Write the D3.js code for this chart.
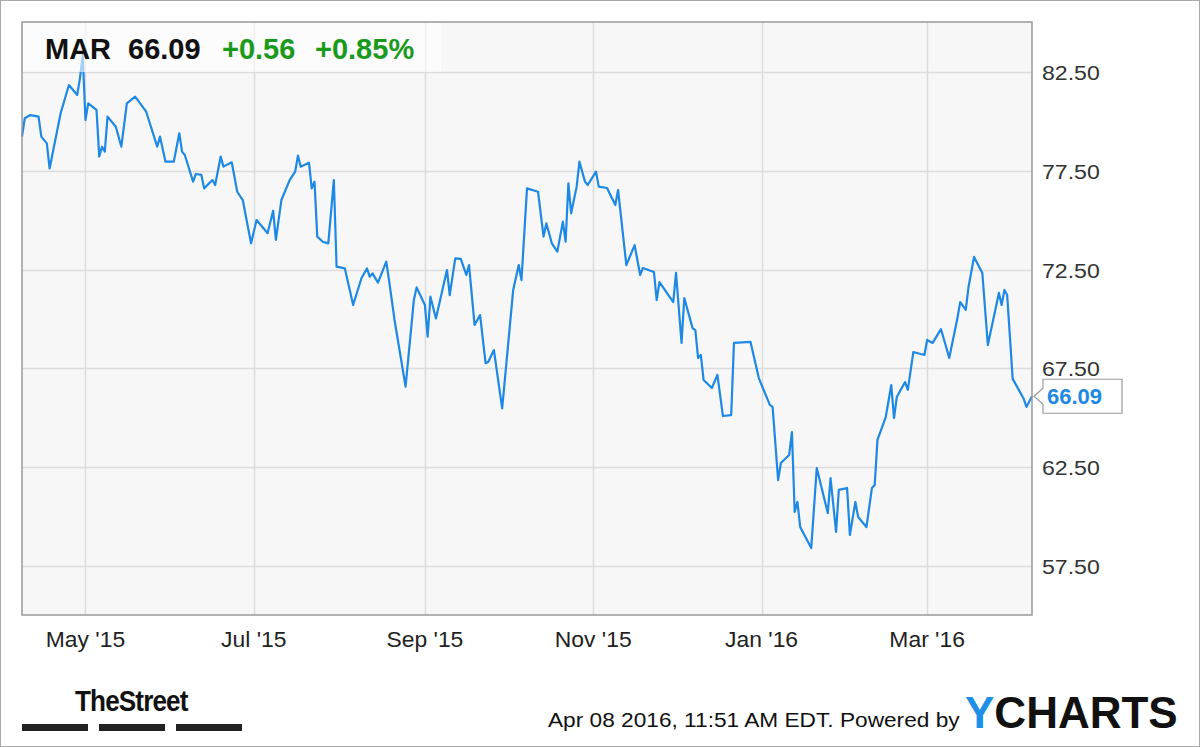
<!DOCTYPE html>
<html><head><meta charset="utf-8">
<script src="https://cdn.jsdelivr.net/npm/d3@7"></script>
<style>body{margin:0;background:#fff}svg{display:block}text{font-family:"Liberation Sans",Arial,sans-serif}</style>
</head><body><svg id="c" width="1200" height="747"></svg>
<script>
// MAR daily close
var dates = ["2015-04-08","2015-04-09","2015-04-11","2015-04-14","2015-04-15","2015-04-17","2015-04-18","2015-04-22","2015-04-25","2015-04-28","2015-04-29","2015-04-30","2015-05-01","2015-05-02","2015-05-05","2015-05-06","2015-05-07","2015-05-08","2015-05-09","2015-05-12","2015-05-14","2015-05-16","2015-05-19","2015-05-23","2015-05-27","2015-05-28","2015-05-30","2015-06-02","2015-06-04","2015-06-05","2015-06-06","2015-06-09","2015-06-10","2015-06-12","2015-06-13","2015-06-16","2015-06-17","2015-06-19","2015-06-20","2015-06-23","2015-06-25","2015-06-27","2015-06-30","2015-07-02","2015-07-06","2015-07-08","2015-07-09","2015-07-11","2015-07-14","2015-07-16","2015-07-17","2015-07-18","2015-07-21","2015-07-22","2015-07-23","2015-07-24","2015-07-26","2015-07-28","2015-07-30","2015-07-31","2015-08-03","2015-08-06","2015-08-09","2015-08-11","2015-08-12","2015-08-13","2015-08-15","2015-08-18","2015-08-19","2015-08-21","2015-08-25","2015-08-28","2015-08-29","2015-09-01","2015-09-02","2015-09-03","2015-09-05","2015-09-09","2015-09-10","2015-09-12","2015-09-14","2015-09-16","2015-09-17","2015-09-19","2015-09-21","2015-09-23","2015-09-24","2015-09-26","2015-09-29","2015-10-03","2015-10-05","2015-10-06","2015-10-08","2015-10-12","2015-10-14","2015-10-15","2015-10-17","2015-10-19","2015-10-21","2015-10-22","2015-10-23","2015-10-24","2015-10-26","2015-10-27","2015-10-29","2015-10-30","2015-11-02","2015-11-03","2015-11-06","2015-11-09","2015-11-10","2015-11-13","2015-11-16","2015-11-18","2015-11-19","2015-11-23","2015-11-24","2015-11-25","2015-11-30","2015-12-01","2015-12-03","2015-12-04","2015-12-07","2015-12-08","2015-12-09","2015-12-10","2015-12-11","2015-12-14","2015-12-16","2015-12-18","2015-12-21","2015-12-22","2015-12-28","2015-12-31","2016-01-04","2016-01-05","2016-01-07","2016-01-08","2016-01-11","2016-01-12","2016-01-13","2016-01-14","2016-01-15","2016-01-19","2016-01-21","2016-01-25","2016-01-26","2016-01-28","2016-01-29","2016-02-01","2016-02-02","2016-02-04","2016-02-05","2016-02-08","2016-02-10","2016-02-11","2016-02-12","2016-02-15","2016-02-17","2016-02-18","2016-02-19","2016-02-22","2016-02-23","2016-02-25","2016-02-29","2016-03-01","2016-03-03","2016-03-06","2016-03-08","2016-03-09","2016-03-12","2016-03-13","2016-03-15","2016-03-16","2016-03-18","2016-03-21","2016-03-23","2016-03-27","2016-03-28","2016-03-29","2016-03-30","2016-04-01","2016-04-05","2016-04-06","2016-04-08"];
var closes = [79.23,80.16,80.32,80.24,79.23,78.89,77.62,80.41,81.84,81.34,82.18,83.36,80.07,80.91,80.58,78.22,78.72,78.47,80.24,79.73,78.72,80.91,81.25,80.49,78.72,79.23,77.96,77.96,79.40,78.47,78.30,76.95,77.34,77.29,76.61,77.03,76.78,78.22,77.71,77.93,76.44,76.02,73.83,75.01,74.34,75.48,74.00,76.02,77.03,77.46,78.27,77.71,77.91,76.61,76.95,74.17,73.91,73.83,77.03,72.65,72.56,70.71,72.06,72.56,72.14,72.31,71.84,72.90,71.97,69.95,66.58,70.96,71.60,70.71,69.11,71.13,70.03,72.48,71.21,73.07,73.04,72.23,72.73,69.70,70.20,67.76,67.84,68.43,65.48,71.47,72.73,71.97,76.61,76.44,74.17,74.84,73.83,73.41,74.93,73.91,76.87,75.35,76.70,77.96,76.95,76.78,77.46,76.70,76.63,75.77,76.53,72.73,73.74,72.23,72.58,72.38,70.96,71.87,70.86,72.33,68.79,71.06,69.54,69.44,68.03,68.18,66.91,66.51,67.17,65.09,65.14,68.79,68.84,67.01,65.65,65.55,61.85,62.71,63.12,64.28,60.23,60.74,59.47,58.41,62.46,60.18,61.95,59.22,61.35,61.45,59.07,60.74,59.98,59.47,61.45,61.60,63.88,65.04,66.66,64.99,66.05,66.81,66.41,68.33,68.18,68.94,68.79,69.49,68.53,68.03,70.06,70.86,70.46,71.62,73.14,72.33,68.68,71.32,70.71,71.47,71.21,66.97,65.96,65.55,66.09];
var yTicks = [57.5,62.5,67.5,72.5,77.5,82.5];
var xTicks = ["2015-05-01","2015-07-01","2015-09-01","2015-11-01","2016-01-01","2016-03-01"];
var ticker = "MAR", last = "66.09", chg = "+0.56", pct = "+0.85%";

var parse = d3.timeParse("%Y-%m-%d");
var data = dates.map(function(d,i){ return {t:parse(d), v:closes[i]}; });
var svg = d3.select("#c");
var L=22, T=22, R=1032, B=615;

svg.append("rect").attr("x",0.5).attr("y",0.5).attr("width",1199).attr("height",746).attr("fill","#fff").attr("stroke","#aaa");

var x = d3.scaleTime().domain([parse("2015-04-08"), parse("2016-04-08")]).range([L,R]);
// gridlines at the reference positions (82.50 at y=72, 57.50 at y=566)
var y = d3.scaleLinear().domain([82.5,57.5]).range([72,566]);

svg.append("rect").attr("x",L).attr("y",T).attr("width",R-L).attr("height",B-T).attr("fill","#f7f7f7");

svg.selectAll(".gy").data(yTicks).enter().append("line")
  .attr("x1",L).attr("x2",R).attr("y1",function(d){return Math.round(y(d))+0.5;}).attr("y2",function(d){return Math.round(y(d))+0.5;})
  .attr("stroke","#dcdcdc").attr("stroke-width",1.5);
svg.selectAll(".gx").data(xTicks).enter().append("line")
  .attr("y1",T).attr("y2",B).attr("x1",function(d){return Math.round(x(parse(d)))+0.5;}).attr("x2",function(d){return Math.round(x(parse(d)))+0.5;})
  .attr("stroke","#dcdcdc").attr("stroke-width",1.5);

svg.append("path").datum(data)
  .attr("d", d3.line().x(function(d){return x(d.t);}).y(function(d){return y(d.v);}))
  .attr("fill","none").attr("stroke","#1e88e5").attr("stroke-width",2.2).attr("stroke-linejoin","round");

svg.append("rect").attr("x",L).attr("y",T).attr("width",R-L).attr("height",B-T).attr("fill","none").attr("stroke","#999").attr("stroke-width",1.5);

// header box
svg.append("rect").attr("x",L+1).attr("y",T+1).attr("width",418).attr("height",49).attr("fill","#fff").attr("opacity",0.6);
var hdr = [[ticker,45,"#111"],[last,128,"#111"],[chg,222,"#1a9a1a"],[pct,315,"#1a9a1a"]];
svg.selectAll(".hd").data(hdr).enter().append("text")
  .attr("x",function(d){return d[1];}).attr("y",59).attr("font-size",29).attr("font-weight","bold")
  .attr("fill",function(d){return d[2];}).text(function(d){return d[0];});

// y axis labels
svg.append("g").selectAll("text").data(yTicks).enter().append("text")
  .attr("font-size",21).attr("fill","#333")
  .attr("transform",function(d){return "translate(1042,"+(y(d)+8)+") scale(1.1,1)";})
  .text(function(d){return d3.format(".2f")(d);});

// x axis labels
svg.append("g").selectAll("text").data(xTicks).enter().append("text")
  .attr("text-anchor","middle").attr("font-size",22).attr("fill","#222")
  .attr("transform",function(d){var px=x(parse(d)); return "translate("+px+",647) scale(1.04,1)";})
  .text(function(d){return d3.timeFormat("%b '%y")(parse(d));});

// last value tag
var ly = y(closes[closes.length-1]);
svg.append("path").attr("d","M1034,"+ly+" L1043,"+(ly-8)+" L1043,"+(ly-17)+" L1122,"+(ly-17)+" L1122,"+(ly+17)+" L1043,"+(ly+17)+" L1043,"+(ly+8)+" Z")
  .attr("fill","#fff").attr("stroke","#999").attr("stroke-width",1.2);
svg.append("text").attr("x",1047).attr("y",ly+8).attr("font-size",22).attr("font-weight","bold").attr("fill","#1e88e5").text(last);

// footer
svg.append("text").attr("font-size",30).attr("font-weight","bold").attr("fill","#111")
  .attr("transform","translate(75,711) scale(0.87,1)").attr("letter-spacing",-1).text("TheStreet");
[[22,88],[99,165],[176,242]].forEach(function(b){
  svg.append("rect").attr("x",b[0]).attr("y",724).attr("width",b[1]-b[0]).attr("height",7).attr("fill","#222");
});
svg.append("text").attr("font-size",21).attr("fill","#111")
  .attr("transform","translate(548,727) scale(1.08,1)").text("Apr 08 2016, 11:51 AM EDT.  Powered by");
var yc = svg.append("text").attr("font-size",44).attr("font-weight","bold")
  .attr("transform","translate(965,728)");
yc.append("tspan").attr("fill","#1e8fe6").text("Y");
yc.append("tspan").attr("fill","#111").text("CHARTS");
</script></body></html>
